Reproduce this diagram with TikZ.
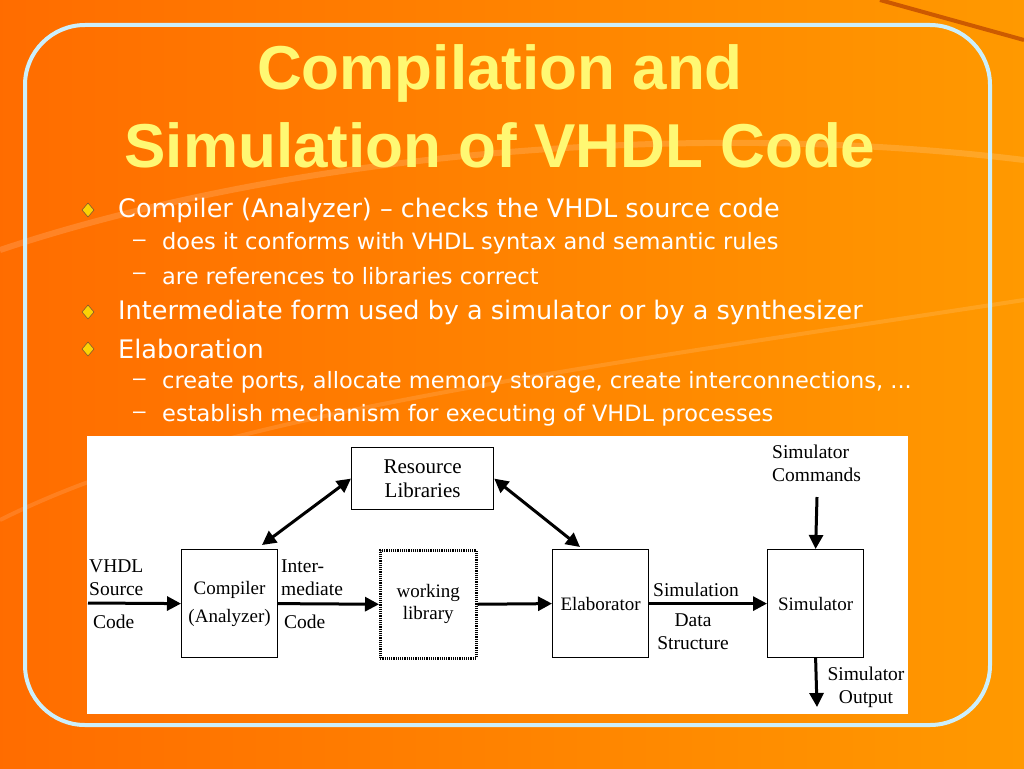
\documentclass[tikz,border=0pt]{standalone}
\usepackage{fontspec}
\setmainfont{Liberation Serif}
\newfontfamily\titlefont{Liberation Sans}
\newfontfamily\bodyfont{DejaVu Sans}
\usetikzlibrary{arrows.meta}
\begin{document}
\begin{tikzpicture}[x=1pt,y=-1pt,
  blk/.style={draw,line width=1.2pt,minimum width=96pt,minimum height=108pt,anchor=north west,align=center,font=\fontsize{19}{22}\selectfont},
  arr/.style={line width=3pt,-{Triangle[length=14pt,width=14pt]}},
  darr/.style={line width=3pt,{Triangle[length=14pt,width=14pt]}-{Triangle[length=14pt,width=14pt]}},
  lbl/.style={font=\fontsize{19.5}{23}\selectfont,inner sep=0pt},
  tt/.style={font=\titlefont\bfseries\fontsize{62}{66}\selectfont,text=yellow!55!white},
  b1/.style={anchor=west,font=\bodyfont\fontsize{25.5}{28}\selectfont,text=white,inner sep=0pt},
  b2/.style={anchor=west,font=\bodyfont\fontsize{22.5}{26}\selectfont,text=white,inner sep=0pt},
  dsh/.style={anchor=west,font=\titlefont\fontsize{22.5}{26}\selectfont,text=white,inner sep=0pt},
  bul/.style={fill=yellow!70!orange,draw=brown!70!black,line width=0.6pt}]
\useasboundingbox (0,0) rectangle (1024,768);
\shade[left color=orange!85!red, right color=orange!80!yellow] (0,0) rectangle (1024,768);
\draw[white,opacity=0.15,line width=6pt] (0,250) .. controls (300,150) and (700,120) .. (1024,160);
\draw[white,opacity=0.12,line width=4pt] (0,520) .. controls (200,420) and (500,380) .. (1024,300);
\draw[red!50!black,opacity=0.4,line width=4pt] (880,0) -- (1024,40);
\draw[cyan!20!white,line width=4pt,rounded corners=60pt] (25,25) rectangle (990,725);
\node[tt] (t1) at (500,73) {Compilation and};
\node[tt] (t2) at (500,145) {Simulation of VHDL Code};
\foreach \y in {210,312,349}{\path[bul] (88,\y-7) -- (94,\y) -- (88,\y+7) -- (82,\y) -- cycle;}
\node[b1] (l1) at (118,210) {Compiler (Analyzer) – checks the VHDL source code};
\node[dsh] (l2a) at (133,243) {–};
\node[b2] (l2) at (162,243) {does it conforms with VHDL syntax and semantic rules};
\node[dsh] (l3a) at (133,276) {–};
\node[b2] (l3) at (162,276) {are references to libraries correct};
\node[b1] (l4) at (118,312) {Intermediate form used by a simulator or by a synthesizer};
\node[b1] (l5) at (118,349) {Elaboration};
\node[dsh] (l6a) at (133,382) {–};
\node[b2] (l6) at (162,382) {create ports, allocate memory storage, create interconnections, ...};
\node[dsh] (l7a) at (133,415) {–};
\node[b2] (l7) at (162,415) {establish mechanism for executing of VHDL processes};
\fill[white] (87,436) rectangle (908,714);
\node[blk,minimum width=142pt,minimum height=62pt,font=\fontsize{21}{24}\selectfont] (res) at (351,447) {Resource\\Libraries};
\node[blk] (comp) at (181,549) {Compiler\\[6pt](Analyzer)};
\node[blk,densely dotted,line width=2.5pt] (work) at (379,549) {working\\library};
\node[blk] (elab) at (552,549) {Elaborator};
\node[blk] (sim) at (767,549) {Simulator};
\coordinate (in) at (88,603);
\coordinate (cmd) at (817,497);
\coordinate (out) at (817,707);
\draw[arr] (in) -- (comp.west);
\draw[arr] (comp.east) -- (work.west);
\draw[arr] (work.east) -- (elab.west);
\draw[arr] (elab.east) -- (sim.west);
\draw[arr] (cmd) -- (sim.north);
\draw[arr] (sim.south) -- (out);
\draw[darr] (262,545) -- (res.west);
\draw[darr] (res.east) -- (580,547);
\node[lbl,anchor=west,align=left] (vs) at (89,578) {VHDL\\Source};
\node[lbl,anchor=west] (vc) at (93,622) {Code};
\node[lbl,anchor=west,align=left] (im) at (281,578) {Inter-\\mediate};
\node[lbl,anchor=west] (ic) at (284,622) {Code};
\node[lbl] (sd) at (696,590) {Simulation};
\node[lbl,align=center] (ds) at (693,632) {Data\\Structure};
\node[lbl,anchor=west,align=left] (sc) at (772,463) {Simulator\\Commands};
\node[lbl,align=center] (so) at (866,687) {Simulator\\Output};
\end{tikzpicture}
\end{document}
